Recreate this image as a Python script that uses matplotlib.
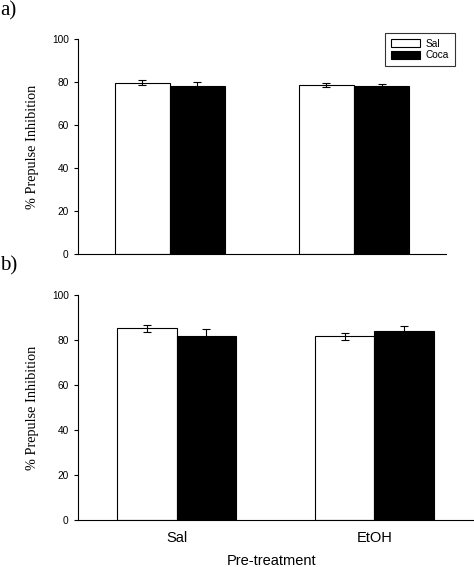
import matplotlib.pyplot as plt
import numpy as np

groups = ['Sal', 'EtOH']
series = ['Sal', 'Coca']

# panel a
a_sal = [79.7, 78.5]
a_sal_err = [1.1, 1.0]
a_coca = [78.3, 78.2]
a_coca_err = [1.9, 0.8]

# panel b
b_sal = [85.2, 81.7]
b_sal_err = [1.6, 1.7]
b_coca = [81.8, 84.3]
b_coca_err = [3.1, 1.9]

yticks = [0, 20, 40, 60, 80, 100]

serif = ['Liberation Serif', 'DejaVu Serif']
sans = ['Liberation Sans', 'DejaVu Sans']


def draw(ax, sal, sal_err, coca, coca_err):
    x = np.arange(len(groups))
    w = 0.30
    ax.bar(x - w / 2, sal, w, color='white', edgecolor='black', linewidth=0.8,
           yerr=sal_err, capsize=3, error_kw=dict(elinewidth=0.8, capthick=0.8),
           label=series[0])
    ax.bar(x + w / 2, coca, w, color='black', edgecolor='black', linewidth=0.8,
           yerr=coca_err, capsize=3, error_kw=dict(elinewidth=0.8, capthick=0.8),
           label=series[1])
    ax.set_xlim(-0.5, 1.5)
    ax.set_ylim(0, 100)
    ax.set_yticks(yticks)
    ax.spines['top'].set_visible(False)
    ax.spines['right'].set_visible(False)
    ax.spines['left'].set_linewidth(0.8)
    ax.spines['bottom'].set_linewidth(0.8)
    ax.tick_params(axis='y', length=3, width=0.8, labelsize=7.3)
    for t in ax.get_yticklabels():
        t.set_family(sans)
    ax.set_ylabel('% Prepulse Inhibition', family=serif, fontsize=10.3)


fig = plt.figure(figsize=(4.74, 5.67), dpi=100)
ax1 = fig.add_axes([0.164, 0.552, 0.777, 0.379])
ax2 = fig.add_axes([0.164, 0.0824, 0.834, 0.397])

draw(ax1, a_sal, a_sal_err, a_coca, a_coca_err)
ax1.yaxis.set_label_coords(-0.104, 0.5)
ax1.set_xticks([])
leg = ax1.legend(loc='upper right', bbox_to_anchor=(1.024, 1.03),
                 borderaxespad=0, frameon=True, fancybox=False, edgecolor='black',
                 handlelength=2.9, handleheight=0.9, borderpad=0.6,
                 labelspacing=0.15, handletextpad=0.5,
                 prop={'family': sans, 'size': 7.3})
leg.get_frame().set_linewidth(0.8)

draw(ax2, b_sal, b_sal_err, b_coca, b_coca_err)
ax2.yaxis.set_label_coords(-0.097, 0.5)
ax2.set_xticks(np.arange(len(groups)))
ax2.set_xticklabels(groups, family=sans, fontsize=10.5)
ax2.tick_params(axis='x', length=0, pad=8)
ax2.set_xlabel('Pre-treatment', family=sans, fontsize=10.5)
ax2.xaxis.set_label_coords(0.49, -0.15)

fig.text(0.0, 0.998, 'a)', family=serif, fontsize=15, va='top', ha='left')
fig.text(0.0, 0.548, 'b)', family=serif, fontsize=15, va='top', ha='left')

fig.savefig('out.png', dpi=100)
